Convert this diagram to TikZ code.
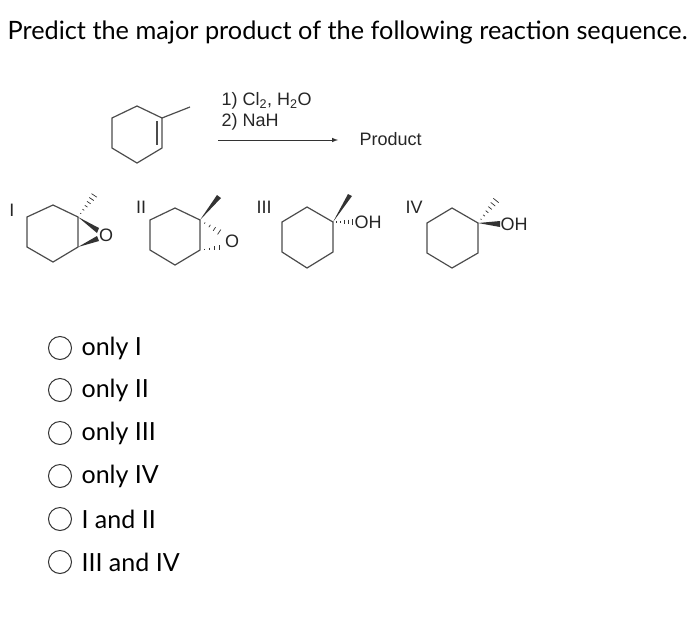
\documentclass[tikz,border=0pt]{standalone}
\usepackage{fontspec}
\setmainfont{Lato}
\newfontfamily\chem{Liberation Sans}
\usetikzlibrary{calc}
\begin{document}
\begin{tikzpicture}[x=1pt,y=-1pt,line width=1.2pt,
 bond/.style={draw=black!70},
 chemtxt/.style={font=\chem\fontsize{18}{18}\selectfont,inner sep=0pt,text=black!85},
 opt/.style={font=\fontsize{25}{25}\selectfont,anchor=west,inner sep=0pt},
 radio/.style={circle,draw=black!80,line width=1pt,minimum size=23pt,inner sep=0pt}]
\useasboundingbox (0,0) rectangle (700,621);
\fill[white] (0,0) rectangle (700,621);
\node[font=\fontsize{25.3}{25}\selectfont,anchor=west,inner sep=0pt] (title) at (7,32) {Predict the major product of the following reaction sequence.};
% starting material
\draw[bond] (112,118)--(137,106)--(162,118)--(162,148)--(137,163)--(112,148)--cycle;
\draw[bond] (157,121)--(157,145);
\draw[bond] (162,118)--(190,107);
% arrow
\coordinate (a1) at (218,140); \coordinate (a2) at (338,140);
\draw[black!80,line width=1pt,-latex] (a1)--(a2);
\node[chemtxt,anchor=west] (r1) at (221,101) {1) Cl\textsubscript{2}, H\textsubscript{2}O};
\node[chemtxt,anchor=west] (r2) at (221,122) {2) NaH};
\node[chemtxt,anchor=west] (prod) at (359,139) {Product};
% labels
\node[chemtxt] (lI) at (12,210) {I};
\node[chemtxt] (lII) at (141,207) {II};
\node[chemtxt] (lIII) at (264,207) {III};
\node[chemtxt] (lIV) at (414,207) {IV};
% I
\draw[bond] (53,205)--(78,217)--(78,247)--(53,262)--(27,247)--(27,217)--cycle;
\node[chemtxt] (oI) at (106,235) {O};
\fill[black!80] (78,217)--(99,228)--(97,233)--cycle;
\fill[black!80] (78,247)--(99,241)--(97,236)--cycle;
\foreach \t in {0.15,0.3,0.45,0.6,0.75,0.9}
  \draw[black!80,line width=0.7pt] ($(78,217)!\t!(96,193)+(-\t*3,-\t*2)$)--($(78,217)!\t!(96,193)+(\t*3,\t*2)$);
% II
\draw[bond] (175,208)--(200,220)--(200,250)--(175,265)--(150,250)--(150,220)--cycle;
\node[chemtxt] (oII) at (232,241) {O};
\fill[black!80] (200,220)--(217,195)--(221,198)--cycle;
\foreach \t in {0.2,0.4,0.6,0.8}{
  \draw[black!80,line width=0.7pt] ($(200,220)!\t!(224,235)+(\t*2,-\t*3)$)--($(200,220)!\t!(224,235)+(-\t*2,\t*3)$);
  \draw[black!80,line width=0.7pt] ($(200,250)!\t!(224,247)+(0,-\t*3)$)--($(200,250)!\t!(224,247)+(0,\t*3)$);}
% III
\draw[bond] (307,207)--(333,222)--(333,252)--(307,268)--(282,252)--(282,222)--cycle;
\fill[black!80] (333,222)--(348,194)--(352,196)--cycle;
\node[chemtxt,anchor=west] (ohIII) at (354,222) {OH};
\foreach \t in {0.2,0.4,0.6,0.8,1.0}
  \draw[black!80,line width=0.7pt] ($(333,222)!\t!(352,222)+(0,-\t*3)$)--($(333,222)!\t!(352,222)+(0,\t*3)$);
% IV
\draw[bond] (452,208)--(478,223)--(478,253)--(452,268)--(427,253)--(427,223)--cycle;
\fill[black!80] (478,223)--(500,221)--(500,227)--cycle;
\node[chemtxt,anchor=west] (ohIV) at (500,224) {OH};
\foreach \t in {0.15,0.3,0.45,0.6,0.75,0.9}
  \draw[black!80,line width=0.7pt] ($(478,223)!\t!(498,198)+(-\t*3,-\t*2.4)$)--($(478,223)!\t!(498,198)+(\t*3,\t*2.4)$);
% options
\foreach \y/\txt/\n in {348/only I/1,390/only II/2,433/only III/3,476/only IV/4,519/I and II/5,562/III and IV/6}{
  \node[radio] (c\n) at (60,\y) {};
  \node[opt] (o\n) at (81,\y) {\txt};}
\end{tikzpicture}
\end{document}
